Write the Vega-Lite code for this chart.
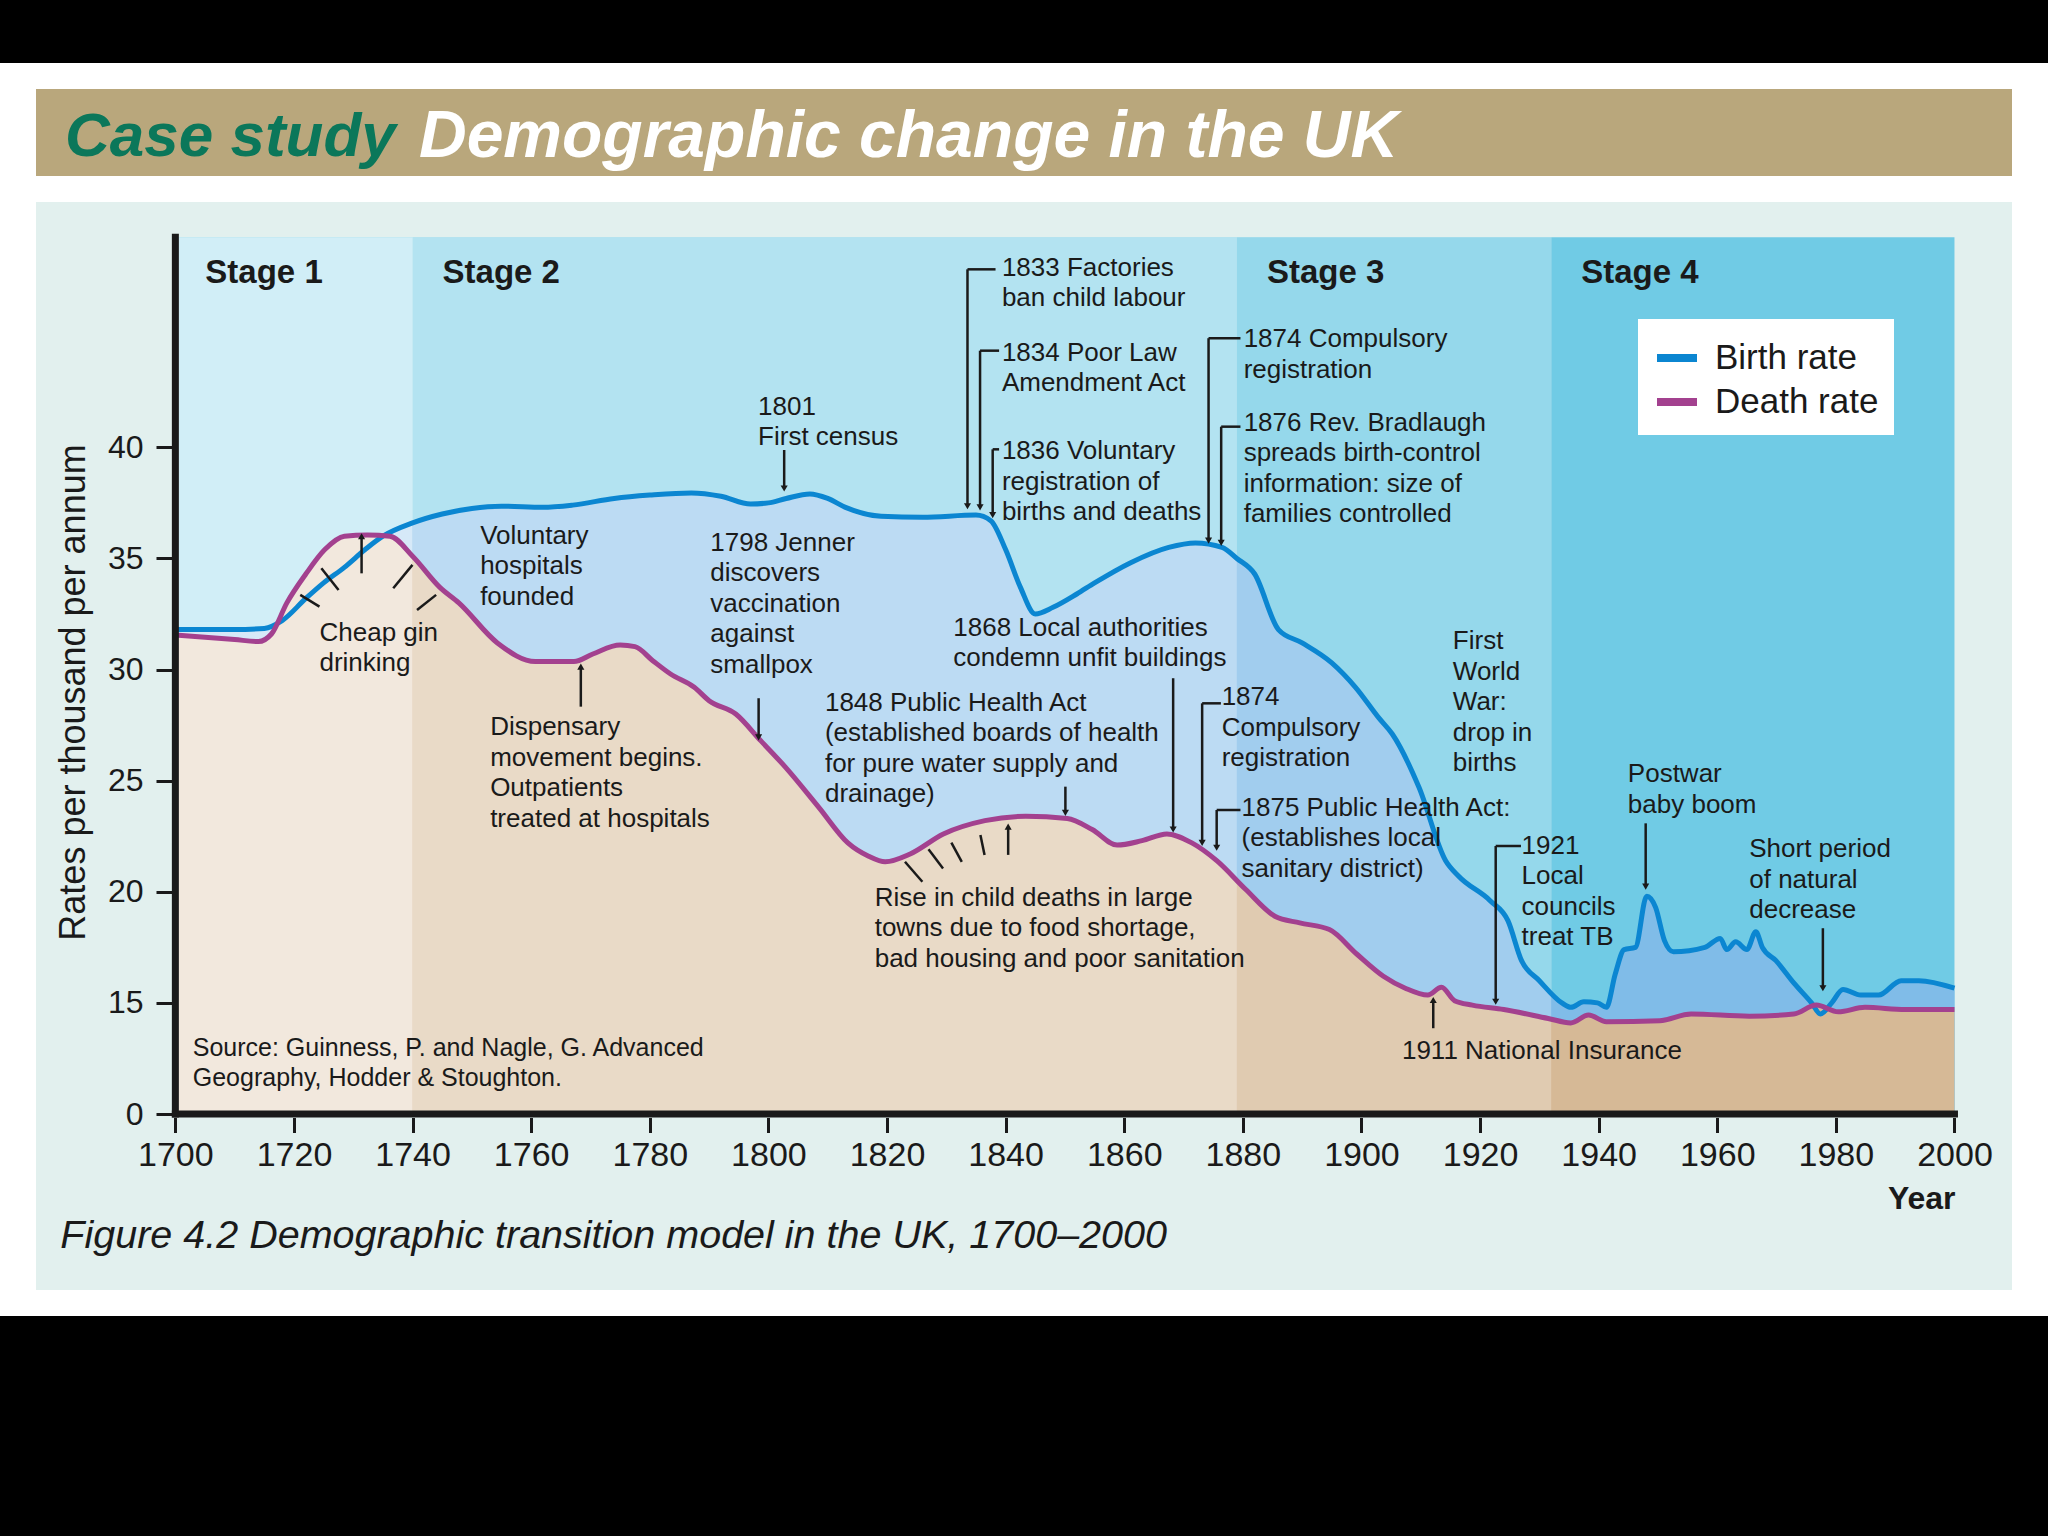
{
  "$schema": "https://vega.github.io/schema/vega-lite/v6.json",
  "background": "white",
  "padding": 0,
  "bounds": "flush",
  "center": true,
  "spacing": 26,
  "config": {
    "font": "Liberation Sans",
    "view": {"stroke": null},
    "axis": {"labelColor": "#1a1a1a", "titleColor": "#1a1a1a", "tickColor": "#1a1a1a", "labelFont": "Liberation Sans", "titleFont": "Liberation Sans"}
  },
  "datasets": {
    "stages": [
      {"stage": "Stage 1", "start": 1700, "end": 1740},
      {"stage": "Stage 2", "start": 1740, "end": 1879},
      {"stage": "Stage 3", "start": 1879, "end": 1932},
      {"stage": "Stage 4", "start": 1932, "end": 2000}
    ],
    "rates": [
      {"series": "Birth rate", "year": 1700, "rate": 31.8},
      {"series": "Birth rate", "year": 1710, "rate": 31.8},
      {"series": "Birth rate", "year": 1715, "rate": 31.85},
      {"series": "Birth rate", "year": 1718, "rate": 32.2},
      {"series": "Birth rate", "year": 1722, "rate": 33.2},
      {"series": "Birth rate", "year": 1725, "rate": 33.9},
      {"series": "Birth rate", "year": 1728.5, "rate": 34.6},
      {"series": "Birth rate", "year": 1732, "rate": 35.4},
      {"series": "Birth rate", "year": 1735, "rate": 36.0},
      {"series": "Birth rate", "year": 1740, "rate": 36.6},
      {"series": "Birth rate", "year": 1745, "rate": 37.0},
      {"series": "Birth rate", "year": 1750, "rate": 37.25},
      {"series": "Birth rate", "year": 1755, "rate": 37.35},
      {"series": "Birth rate", "year": 1762, "rate": 37.3},
      {"series": "Birth rate", "year": 1767, "rate": 37.4},
      {"series": "Birth rate", "year": 1774, "rate": 37.7},
      {"series": "Birth rate", "year": 1780, "rate": 37.85},
      {"series": "Birth rate", "year": 1787, "rate": 37.95},
      {"series": "Birth rate", "year": 1792, "rate": 37.8},
      {"series": "Birth rate", "year": 1797, "rate": 37.45},
      {"series": "Birth rate", "year": 1800, "rate": 37.5},
      {"series": "Birth rate", "year": 1803, "rate": 37.7},
      {"series": "Birth rate", "year": 1807, "rate": 37.9},
      {"series": "Birth rate", "year": 1810, "rate": 37.7},
      {"series": "Birth rate", "year": 1813, "rate": 37.3},
      {"series": "Birth rate", "year": 1819, "rate": 36.9},
      {"series": "Birth rate", "year": 1826, "rate": 36.85},
      {"series": "Birth rate", "year": 1835, "rate": 36.95},
      {"series": "Birth rate", "year": 1837.5, "rate": 36.7},
      {"series": "Birth rate", "year": 1840, "rate": 35.4},
      {"series": "Birth rate", "year": 1842.5, "rate": 33.7},
      {"series": "Birth rate", "year": 1845, "rate": 32.5},
      {"series": "Birth rate", "year": 1848, "rate": 32.8},
      {"series": "Birth rate", "year": 1852, "rate": 33.4},
      {"series": "Birth rate", "year": 1855, "rate": 33.9},
      {"series": "Birth rate", "year": 1861, "rate": 34.8},
      {"series": "Birth rate", "year": 1867.5, "rate": 35.5},
      {"series": "Birth rate", "year": 1872, "rate": 35.7},
      {"series": "Birth rate", "year": 1876.5, "rate": 35.5},
      {"series": "Birth rate", "year": 1879, "rate": 35.0},
      {"series": "Birth rate", "year": 1882, "rate": 34.3},
      {"series": "Birth rate", "year": 1886, "rate": 31.8},
      {"series": "Birth rate", "year": 1890, "rate": 31.2},
      {"series": "Birth rate", "year": 1895, "rate": 30.3},
      {"series": "Birth rate", "year": 1899, "rate": 29.2},
      {"series": "Birth rate", "year": 1903, "rate": 27.8},
      {"series": "Birth rate", "year": 1905.2, "rate": 27.1},
      {"series": "Birth rate", "year": 1909.7, "rate": 24.7},
      {"series": "Birth rate", "year": 1914.2, "rate": 21.4},
      {"series": "Birth rate", "year": 1916.4, "rate": 20.7},
      {"series": "Birth rate", "year": 1921.7, "rate": 19.6},
      {"series": "Birth rate", "year": 1924.7, "rate": 18.7},
      {"series": "Birth rate", "year": 1927, "rate": 16.9},
      {"series": "Birth rate", "year": 1930, "rate": 16.0},
      {"series": "Birth rate", "year": 1933.8, "rate": 15.0},
      {"series": "Birth rate", "year": 1935.3, "rate": 14.8},
      {"series": "Birth rate", "year": 1937.5, "rate": 15.05},
      {"series": "Birth rate", "year": 1939.8, "rate": 15.0},
      {"series": "Birth rate", "year": 1941.3, "rate": 14.8},
      {"series": "Birth rate", "year": 1942.8, "rate": 16.3},
      {"series": "Birth rate", "year": 1944.3, "rate": 17.4},
      {"series": "Birth rate", "year": 1946.2, "rate": 17.5},
      {"series": "Birth rate", "year": 1948.1, "rate": 19.8},
      {"series": "Birth rate", "year": 1949.6, "rate": 19.3},
      {"series": "Birth rate", "year": 1951.1, "rate": 17.8},
      {"series": "Birth rate", "year": 1952.6, "rate": 17.3},
      {"series": "Birth rate", "year": 1957.9, "rate": 17.5},
      {"series": "Birth rate", "year": 1960.5, "rate": 17.9},
      {"series": "Birth rate", "year": 1961.6, "rate": 17.4},
      {"series": "Birth rate", "year": 1963.1, "rate": 17.75},
      {"series": "Birth rate", "year": 1965, "rate": 17.4},
      {"series": "Birth rate", "year": 1966.5, "rate": 18.2},
      {"series": "Birth rate", "year": 1967.6, "rate": 17.5},
      {"series": "Birth rate", "year": 1969.9, "rate": 16.9},
      {"series": "Birth rate", "year": 1972.9, "rate": 15.9},
      {"series": "Birth rate", "year": 1975.9, "rate": 15.0},
      {"series": "Birth rate", "year": 1977.4, "rate": 14.5},
      {"series": "Birth rate", "year": 1979.3, "rate": 15.0},
      {"series": "Birth rate", "year": 1981.2, "rate": 15.6},
      {"series": "Birth rate", "year": 1984.2, "rate": 15.35},
      {"series": "Birth rate", "year": 1987.2, "rate": 15.35},
      {"series": "Birth rate", "year": 1991, "rate": 16.0},
      {"series": "Birth rate", "year": 1994, "rate": 16.0},
      {"series": "Birth rate", "year": 2000, "rate": 15.66},
      {"series": "Death rate", "year": 1700, "rate": 31.55},
      {"series": "Death rate", "year": 1710, "rate": 31.35},
      {"series": "Death rate", "year": 1714, "rate": 31.26},
      {"series": "Death rate", "year": 1716.2, "rate": 31.6},
      {"series": "Death rate", "year": 1718.8, "rate": 33.0},
      {"series": "Death rate", "year": 1722, "rate": 34.3},
      {"series": "Death rate", "year": 1725.2, "rate": 35.4},
      {"series": "Death rate", "year": 1728.5, "rate": 36.0},
      {"series": "Death rate", "year": 1732.4, "rate": 36.06},
      {"series": "Death rate", "year": 1736.2, "rate": 36.0},
      {"series": "Death rate", "year": 1740, "rate": 35.1},
      {"series": "Death rate", "year": 1744.6, "rate": 33.7},
      {"series": "Death rate", "year": 1747.8, "rate": 33.0},
      {"series": "Death rate", "year": 1754.3, "rate": 31.2},
      {"series": "Death rate", "year": 1760.7, "rate": 30.36},
      {"series": "Death rate", "year": 1767.2, "rate": 30.36},
      {"series": "Death rate", "year": 1770.4, "rate": 30.7},
      {"series": "Death rate", "year": 1775, "rate": 31.1},
      {"series": "Death rate", "year": 1777.5, "rate": 31.03},
      {"series": "Death rate", "year": 1780.5, "rate": 30.4},
      {"series": "Death rate", "year": 1783.5, "rate": 29.8},
      {"series": "Death rate", "year": 1787.5, "rate": 29.2},
      {"series": "Death rate", "year": 1790, "rate": 28.6},
      {"series": "Death rate", "year": 1794.5, "rate": 28.0},
      {"series": "Death rate", "year": 1798.7, "rate": 26.8},
      {"series": "Death rate", "year": 1802.9, "rate": 25.6},
      {"series": "Death rate", "year": 1808.5, "rate": 23.8},
      {"series": "Death rate", "year": 1813.4, "rate": 22.2},
      {"series": "Death rate", "year": 1816.9, "rate": 21.6},
      {"series": "Death rate", "year": 1819.7, "rate": 21.35},
      {"series": "Death rate", "year": 1823.9, "rate": 21.7},
      {"series": "Death rate", "year": 1829.5, "rate": 22.6},
      {"series": "Death rate", "year": 1836.5, "rate": 23.2},
      {"series": "Death rate", "year": 1843.4, "rate": 23.4},
      {"series": "Death rate", "year": 1850.4, "rate": 23.3},
      {"series": "Death rate", "year": 1854.6, "rate": 22.8},
      {"series": "Death rate", "year": 1858.8, "rate": 22.1},
      {"series": "Death rate", "year": 1863, "rate": 22.3},
      {"series": "Death rate", "year": 1867.2, "rate": 22.6},
      {"series": "Death rate", "year": 1871.4, "rate": 22.2},
      {"series": "Death rate", "year": 1875.6, "rate": 21.4},
      {"series": "Death rate", "year": 1880.5, "rate": 20.1},
      {"series": "Death rate", "year": 1885.4, "rate": 18.9},
      {"series": "Death rate", "year": 1889.6, "rate": 18.6},
      {"series": "Death rate", "year": 1894.6, "rate": 18.3},
      {"series": "Death rate", "year": 1899.2, "rate": 17.2},
      {"series": "Death rate", "year": 1903.7, "rate": 16.2},
      {"series": "Death rate", "year": 1907.4, "rate": 15.66},
      {"series": "Death rate", "year": 1911.2, "rate": 15.35},
      {"series": "Death rate", "year": 1913.5, "rate": 15.7},
      {"series": "Death rate", "year": 1915.7, "rate": 15.1},
      {"series": "Death rate", "year": 1918.7, "rate": 14.9},
      {"series": "Death rate", "year": 1924, "rate": 14.7},
      {"series": "Death rate", "year": 1931.5, "rate": 14.3},
      {"series": "Death rate", "year": 1935.3, "rate": 14.1},
      {"series": "Death rate", "year": 1938.3, "rate": 14.45},
      {"series": "Death rate", "year": 1941.3, "rate": 14.15},
      {"series": "Death rate", "year": 1950.3, "rate": 14.2},
      {"series": "Death rate", "year": 1955.6, "rate": 14.5},
      {"series": "Death rate", "year": 1965.4, "rate": 14.4},
      {"series": "Death rate", "year": 1972.9, "rate": 14.5},
      {"series": "Death rate", "year": 1976.7, "rate": 14.9},
      {"series": "Death rate", "year": 1980.4, "rate": 14.6},
      {"series": "Death rate", "year": 1984.9, "rate": 14.8},
      {"series": "Death rate", "year": 1991.7, "rate": 14.7},
      {"series": "Death rate", "year": 2000, "rate": 14.7}
    ],
    "notes": [
      {"kind": "note", "year": 1839.37, "value": 48.67, "text": "1833 Factories\nban child labour"},
      {"kind": "note", "year": 1839.37, "value": 44.85, "text": "1834 Poor Law\nAmendment Act"},
      {"kind": "note", "year": 1839.37, "value": 40.42, "text": "1836 Voluntary\nregistration of\nbirths and deaths"},
      {"kind": "note", "year": 1798.26, "value": 42.42, "text": "1801\nFirst census"},
      {"kind": "note", "year": 1790.2, "value": 36.3, "text": "1798 Jenner\ndiscovers\nvaccination\nagainst\nsmallpox"},
      {"kind": "note", "year": 1831.18, "value": 32.47, "text": "1868 Local authorities\ncondemn unfit buildings"},
      {"kind": "note", "year": 1880.14, "value": 45.45, "text": "1874 Compulsory\nregistration"},
      {"kind": "note", "year": 1880.14, "value": 41.7, "text": "1876 Rev. Bradlaugh\nspreads birth-control\ninformation: size of\nfamilies controlled"},
      {"kind": "note", "year": 1915.41, "value": 31.87, "text": "First\nWorld\nWar:\ndrop in\nbirths"},
      {"kind": "note", "year": 1751.39, "value": 36.6, "text": "Voluntary\nhospitals\nfounded"},
      {"kind": "note", "year": 1724.3, "value": 32.25, "text": "Cheap gin\ndrinking"},
      {"kind": "note", "year": 1753.08, "value": 28.0, "text": "Dispensary\nmovement begins.\nOutpatients\ntreated at hospitals"},
      {"kind": "note", "year": 1809.53, "value": 29.1, "text": "1848 Public Health Act\n(established boards of health\nfor pure water supply and\ndrainage)"},
      {"kind": "note", "year": 1817.92, "value": 20.32, "text": "Rise in child deaths in large\ntowns due to food shortage,\nbad housing and poor sanitation"},
      {"kind": "note", "year": 1876.43, "value": 29.35, "text": "1874\nCompulsory\nregistration"},
      {"kind": "note", "year": 1879.78, "value": 24.37, "text": "1875 Public Health Act:\n(establishes local\nsanitary district)"},
      {"kind": "note", "year": 1944.92, "value": 25.87, "text": "Postwar\nbaby boom"},
      {"kind": "note", "year": 1927.0, "value": 22.65, "text": "1921\nLocal\ncouncils\ntreat TB"},
      {"kind": "note", "year": 1965.39, "value": 22.5, "text": "Short period\nof natural\ndecrease"},
      {"kind": "note", "year": 1906.83, "value": 13.42, "text": "1911 National Insurance"},
      {"kind": "source", "year": 1702.93, "value": 13.53, "text": "Source: Guinness, P. and Nagle, G. Advanced\nGeography, Hodder & Stoughton."},
      {"kind": "caption", "year": 1680.6, "value": 5.35, "text": "Figure 4.2  Demographic transition model in the UK, 1700–2000"}
    ],
    "arrows": [
      {"year": 1802.66, "value": 39.88, "year2": 1802.66, "value2": 38.15},
      {"year": 1833.57, "value": 48.01, "year2": 1833.57, "value2": 37.35},
      {"year": 1833.57, "value": 48.01, "year2": 1838.3, "value2": 48.01},
      {"year": 1835.69, "value": 44.35, "year2": 1835.69, "value2": 37.3},
      {"year": 1835.69, "value": 44.35, "year2": 1838.9, "value2": 44.35},
      {"year": 1837.82, "value": 39.91, "year2": 1837.82, "value2": 36.95},
      {"year": 1837.82, "value": 39.91, "year2": 1838.9, "value2": 39.91},
      {"year": 1874.22, "value": 44.91, "year2": 1874.22, "value2": 35.8},
      {"year": 1874.22, "value": 44.91, "year2": 1879.6, "value2": 44.91},
      {"year": 1876.35, "value": 40.93, "year2": 1876.35, "value2": 35.7},
      {"year": 1876.35, "value": 40.93, "year2": 1879.6, "value2": 40.93},
      {"year": 1798.35, "value": 28.71, "year2": 1798.35, "value2": 26.95},
      {"year": 1850.08, "value": 24.73, "year2": 1850.08, "value2": 23.55},
      {"year": 1868.25, "value": 29.61, "year2": 1868.25, "value2": 22.8},
      {"year": 1873.14, "value": 28.48, "year2": 1873.14, "value2": 22.2},
      {"year": 1873.14, "value": 28.48, "year2": 1876.3, "value2": 28.48},
      {"year": 1875.59, "value": 23.68, "year2": 1875.59, "value2": 21.98},
      {"year": 1875.59, "value": 23.68, "year2": 1879.6, "value2": 23.68},
      {"year": 1768.37, "value": 28.33, "year2": 1768.37, "value2": 30.13},
      {"year": 1912.11, "value": 13.86, "year2": 1912.11, "value2": 15.13},
      {"year": 1922.64, "value": 22.06, "year2": 1922.64, "value2": 15.05},
      {"year": 1922.64, "value": 22.06, "year2": 1926.9, "value2": 22.06},
      {"year": 1947.93, "value": 23.08, "year2": 1947.93, "value2": 20.23},
      {"year": 1977.81, "value": 18.36, "year2": 1977.81, "value2": 15.66},
      {"year": 1724.3, "value": 32.83, "year2": 1721.06, "value2": 33.36},
      {"year": 1727.52, "value": 33.58, "year2": 1724.62, "value2": 34.56},
      {"year": 1731.4, "value": 34.33, "year2": 1731.4, "value2": 36.0},
      {"year": 1736.74, "value": 33.66, "year2": 1739.98, "value2": 34.71},
      {"year": 1740.75, "value": 32.68, "year2": 1743.97, "value2": 33.36},
      {"year": 1825.96, "value": 20.45, "year2": 1823.03, "value2": 21.35},
      {"year": 1829.45, "value": 21.05, "year2": 1827.0, "value2": 21.91},
      {"year": 1832.61, "value": 21.35, "year2": 1830.85, "value2": 22.21},
      {"year": 1836.45, "value": 21.66, "year2": 1835.75, "value2": 22.56},
      {"year": 1840.43, "value": 21.66, "year2": 1840.43, "value2": 22.93}
    ],
    "heads": [
      {"year": 1802.66, "value": 38.15, "dir": "down"},
      {"year": 1833.57, "value": 37.35, "dir": "down"},
      {"year": 1835.69, "value": 37.3, "dir": "down"},
      {"year": 1837.82, "value": 36.95, "dir": "down"},
      {"year": 1874.22, "value": 35.8, "dir": "down"},
      {"year": 1876.35, "value": 35.7, "dir": "down"},
      {"year": 1798.35, "value": 26.95, "dir": "down"},
      {"year": 1850.08, "value": 23.55, "dir": "down"},
      {"year": 1868.25, "value": 22.8, "dir": "down"},
      {"year": 1873.14, "value": 22.2, "dir": "down"},
      {"year": 1875.59, "value": 21.98, "dir": "down"},
      {"year": 1768.37, "value": 30.13, "dir": "up"},
      {"year": 1912.11, "value": 15.13, "dir": "up"},
      {"year": 1922.64, "value": 15.05, "dir": "down"},
      {"year": 1947.93, "value": 20.23, "dir": "down"},
      {"year": 1977.81, "value": 15.66, "dir": "down"},
      {"year": 1731.4, "value": 36.0, "dir": "up"},
      {"year": 1840.43, "value": 22.93, "dir": "up"}
    ]
  },
  "vconcat": [
    {
      "width": 2048, "height": 63,
      "view": {"fill": "#000000", "stroke": null},
      "data": {"values": []},
      "mark": "point"
    },
    {
      "width": 1976, "height": 87,
      "view": {"fill": "#b9a77c", "stroke": null},
      "data": {"values": [{"lead": "Case study", "headline": "Demographic change in the UK"}]},
      "layer": [
        {
          "mark": {"type": "text", "align": "left", "baseline": "middle", "dx": 29, "dy": 4, "fontSize": 62, "fontWeight": "bold", "fontStyle": "italic", "color": "#0b775a"},
          "encoding": {
            "x": {"datum": 0, "type": "quantitative", "scale": {"domain": [0, 1]}, "axis": null},
            "text": {"field": "lead"}
          }
        },
        {
          "mark": {"type": "text", "align": "left", "baseline": "middle", "dx": 383, "dy": 4, "fontSize": 66, "fontWeight": "bold", "fontStyle": "italic", "color": "#ffffff"},
          "encoding": {
            "x": {"datum": 0, "type": "quantitative", "scale": {"domain": [0, 1]}, "axis": null},
            "text": {"field": "headline"}
          }
        }
      ]
    },
    {
      "width": 1976, "height": 1088,
      "view": {"fill": "#e2f0ee", "stroke": null},
      "layer": [
        {
          "data": {"name": "stages"},
          "mark": {"type": "rect", "color": "#70cbe5"},
          "encoding": {
            "x": {"field": "start", "type": "quantitative", "scale": {"domain": [1676.5, 2009.7], "nice": false, "zero": false},
              "axis": {"values": [1700, 1720, 1740, 1760, 1780, 1800, 1820, 1840, 1860, 1880, 1900, 1920, 1940, 1960, 1980, 2000], "format": "d", "domain": false, "grid": false, "offset": -172.5, "tickSize": 15, "tickWidth": 3, "labelFontSize": 34, "labelPadding": 6, "labelFlush": false, "labelOverlap": false, "title": "Year", "titleFontSize": 32, "titleFontWeight": "bold", "titleAnchor": "end", "titleAlign": "right", "titleBaseline": "alphabetic", "titleX": 1919, "titleY": 91}},
            "x2": {"field": "end"},
            "y": {"datum": 10, "type": "quantitative", "scale": {"domain": [2.08, 51.04], "nice": false, "zero": false},
              "axis": {"values": [10, 15, 20, 25, 30, 35, 40], "labelExpr": "datum.value == 10 ? '0' : datum.label", "domain": false, "grid": false, "offset": -136, "tickSize": 16, "tickWidth": 3, "labelFontSize": 32, "labelPadding": 13, "title": "Rates per thousand per annum", "titleFontSize": 36, "titleFontWeight": "normal", "titlePadding": 15, "titleY": 490}},
            "y2": {"datum": 49.45}
          }
        },
        {
          "data": {"name": "rates"},
          "transform": [{"filter": "datum.series == 'Birth rate'"}],
          "mark": {"type": "area", "interpolate": "monotone", "color": "#80bce8"},
          "encoding": {
            "x": {"field": "year", "type": "quantitative", "scale": {"domain": [1676.5, 2009.7], "nice": false, "zero": false}},
            "y": {"field": "rate", "type": "quantitative", "scale": {"domain": [2.08, 51.04], "nice": false, "zero": false}},
            "y2": {"datum": 10}
          }
        },
        {
          "data": {"name": "rates"},
          "transform": [{"filter": "datum.series == 'Death rate'"}],
          "mark": {"type": "area", "interpolate": "monotone", "color": "#d6b996"},
          "encoding": {
            "x": {"field": "year", "type": "quantitative", "scale": {"domain": [1676.5, 2009.7], "nice": false, "zero": false}},
            "y": {"field": "rate", "type": "quantitative", "scale": {"domain": [2.08, 51.04], "nice": false, "zero": false}},
            "y2": {"datum": 10}
          }
        },
        {
          "data": {"name": "stages"},
          "transform": [{"filter": "datum.stage == 'Stage 1'"}],
          "mark": {"type": "rect", "color": "#ffffff", "opacity": 0.68},
          "encoding": {
            "x": {"field": "start", "type": "quantitative", "scale": {"domain": [1676.5, 2009.7], "nice": false, "zero": false}},
            "x2": {"field": "end"},
            "y": {"datum": 10, "type": "quantitative", "scale": {"domain": [2.08, 51.04], "nice": false, "zero": false}},
            "y2": {"datum": 49.45}
          }
        },
        {
          "data": {"name": "stages"},
          "transform": [{"filter": "datum.stage == 'Stage 2'"}],
          "mark": {"type": "rect", "color": "#ffffff", "opacity": 0.47},
          "encoding": {
            "x": {"field": "start", "type": "quantitative", "scale": {"domain": [1676.5, 2009.7], "nice": false, "zero": false}},
            "x2": {"field": "end"},
            "y": {"datum": 10, "type": "quantitative", "scale": {"domain": [2.08, 51.04], "nice": false, "zero": false}},
            "y2": {"datum": 49.45}
          }
        },
        {
          "data": {"name": "stages"},
          "transform": [{"filter": "datum.stage == 'Stage 3'"}],
          "mark": {"type": "rect", "color": "#ffffff", "opacity": 0.26},
          "encoding": {
            "x": {"field": "start", "type": "quantitative", "scale": {"domain": [1676.5, 2009.7], "nice": false, "zero": false}},
            "x2": {"field": "end"},
            "y": {"datum": 10, "type": "quantitative", "scale": {"domain": [2.08, 51.04], "nice": false, "zero": false}},
            "y2": {"datum": 49.45}
          }
        },
        {
          "data": {"name": "rates"},
          "mark": {"type": "line", "interpolate": "monotone", "strokeWidth": 5},
          "encoding": {
            "x": {"field": "year", "type": "quantitative", "scale": {"domain": [1676.5, 2009.7], "nice": false, "zero": false}},
            "y": {"field": "rate", "type": "quantitative", "scale": {"domain": [2.08, 51.04], "nice": false, "zero": false}},
            "color": {"field": "series", "type": "nominal", "scale": {"domain": ["Birth rate", "Death rate"], "range": ["#0b86d1", "#a3418f"]},
              "legend": {"title": null, "orient": "none", "legendX": 1638, "legendY": 319, "fillColor": "#ffffff", "padding": 15, "labelFontSize": 35, "labelLimit": 500, "labelColor": "#1a1a1a", "labelFont": "Liberation Sans", "symbolType": "stroke", "symbolStrokeWidth": 8, "symbolSize": 1600, "labelOffset": 14, "rowPadding": 2}}
          }
        },
        {
          "data": {"name": "stages"},
          "mark": {"type": "text", "align": "left", "baseline": "top", "dx": 30, "fontSize": 33, "fontWeight": "bold", "color": "#1a1a1a"},
          "encoding": {
            "x": {"field": "start", "type": "quantitative", "scale": {"domain": [1676.5, 2009.7], "nice": false, "zero": false}},
            "y": {"datum": 48.55, "type": "quantitative", "scale": {"domain": [2.08, 51.04], "nice": false, "zero": false}},
            "text": {"field": "stage"}
          }
        },
        {
          "data": {"values": [{}]},
          "mark": {"type": "rule", "strokeWidth": 7, "color": "#1a1a1a", "strokeCap": "square"},
          "encoding": {
            "x": {"datum": 1700, "type": "quantitative", "scale": {"domain": [1676.5, 2009.7], "nice": false, "zero": false}},
            "y": {"datum": 10, "type": "quantitative", "scale": {"domain": [2.08, 51.04], "nice": false, "zero": false}},
            "y2": {"datum": 49.45}
          }
        },
        {
          "data": {"values": [{}]},
          "mark": {"type": "rule", "strokeWidth": 7, "color": "#1a1a1a", "strokeCap": "square"},
          "encoding": {
            "x": {"datum": 1700, "type": "quantitative", "scale": {"domain": [1676.5, 2009.7], "nice": false, "zero": false}},
            "x2": {"datum": 2000},
            "y": {"datum": 10, "type": "quantitative", "scale": {"domain": [2.08, 51.04], "nice": false, "zero": false}}
          }
        },
        {
          "data": {"name": "arrows"},
          "mark": {"type": "rule", "strokeWidth": 2.5, "color": "#1a1a1a"},
          "encoding": {
            "x": {"field": "year", "type": "quantitative", "scale": {"domain": [1676.5, 2009.7], "nice": false, "zero": false}},
            "y": {"field": "value", "type": "quantitative", "scale": {"domain": [2.08, 51.04], "nice": false, "zero": false}},
            "x2": {"field": "year2"},
            "y2": {"field": "value2"}
          }
        },
        {
          "data": {"name": "heads"},
          "mark": {"type": "point", "filled": true, "size": 50, "color": "#1a1a1a", "opacity": 1},
          "encoding": {
            "x": {"field": "year", "type": "quantitative", "scale": {"domain": [1676.5, 2009.7], "nice": false, "zero": false}},
            "y": {"field": "value", "type": "quantitative", "scale": {"domain": [2.08, 51.04], "nice": false, "zero": false}},
            "shape": {"field": "dir", "type": "nominal", "scale": {"domain": ["down", "up"], "range": ["triangle-down", "triangle-up"]}, "legend": null}
          }
        },
        {
          "data": {"name": "notes"},
          "transform": [{"filter": "datum.kind == 'note'"}],
          "mark": {"type": "text", "align": "left", "baseline": "top", "fontSize": 26, "lineHeight": 30.5, "lineBreak": "\n", "color": "#1a1a1a"},
          "encoding": {
            "x": {"field": "year", "type": "quantitative", "scale": {"domain": [1676.5, 2009.7], "nice": false, "zero": false}},
            "y": {"field": "value", "type": "quantitative", "scale": {"domain": [2.08, 51.04], "nice": false, "zero": false}},
            "text": {"field": "text"}
          }
        },
        {
          "data": {"name": "notes"},
          "transform": [{"filter": "datum.kind == 'source'"}],
          "mark": {"type": "text", "align": "left", "baseline": "top", "fontSize": 25, "lineHeight": 30.4, "lineBreak": "\n", "color": "#1a1a1a"},
          "encoding": {
            "x": {"field": "year", "type": "quantitative", "scale": {"domain": [1676.5, 2009.7], "nice": false, "zero": false}},
            "y": {"field": "value", "type": "quantitative", "scale": {"domain": [2.08, 51.04], "nice": false, "zero": false}},
            "text": {"field": "text"}
          }
        },
        {
          "data": {"name": "notes"},
          "transform": [{"filter": "datum.kind == 'caption'"}],
          "mark": {"type": "text", "align": "left", "baseline": "top", "fontSize": 39.5, "fontStyle": "italic", "color": "#1a1a1a"},
          "encoding": {
            "x": {"field": "year", "type": "quantitative", "scale": {"domain": [1676.5, 2009.7], "nice": false, "zero": false}},
            "y": {"field": "value", "type": "quantitative", "scale": {"domain": [2.08, 51.04], "nice": false, "zero": false}},
            "text": {"field": "text"}
          }
        }
      ]
    },
    {
      "width": 2048, "height": 220,
      "view": {"fill": "#000000", "stroke": null},
      "data": {"values": []},
      "mark": "point"
    }
  ]
}
